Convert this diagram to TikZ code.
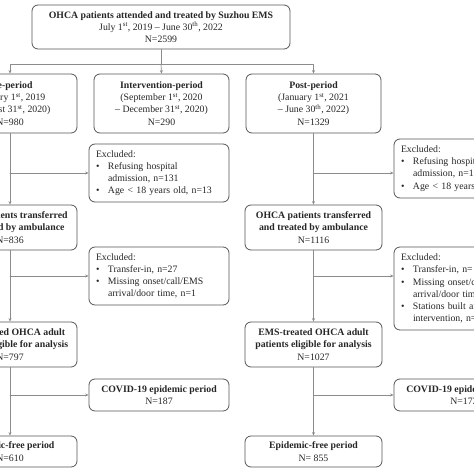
\documentclass[tikz,border=0pt]{standalone}
\usepackage{fontspec}
\setmainfont{Liberation Serif}
\usetikzlibrary{arrows.meta}
\definecolor{boxline}{HTML}{555555}
\definecolor{conline}{HTML}{8C8C8C}
\newcommand{\bl}{\makebox[12pt][l]{\textbullet}}
\newcommand{\hng}{\hspace*{12pt}}
\begin{document}
\begin{tikzpicture}[x=1pt, y=-1pt, line cap=round, line join=round,
    box/.style={draw=boxline, line width=0.8pt, rounded corners=6pt, align=center,
      inner sep=0pt, font=\fontsize{9.8}{12.2}\selectfont, text=black!85},
    exbox/.style={box, align=left, inner xsep=7pt, text width=126pt, minimum height=#1},
    con/.style={draw=conline, line width=0.7pt},
    arr/.style={con, -{Stealth[length=3.5pt, width=3pt]}}]

    \useasboundingbox (0,0) rectangle (474,474);
    \clip (0,0) rectangle (474,474);

    % source
    \node[box, minimum width=258pt, minimum height=44pt] (top) at (161,27)
        {\textbf{OHCA patients attended and treated by Suzhou EMS}\\
         July 1\textsuperscript{st}, 2019 -- June 30\textsuperscript{th}, 2022\\ N=2599};

    % periods
    \node[box, minimum width=134pt, minimum height=59pt] (pre) at (10,103.5)
        {\textbf{Pre-period}\\ (January 1\textsuperscript{st}, 2019\\
         -- August 31\textsuperscript{st}, 2020)\\ N=980};
    \node[box, minimum width=135pt, minimum height=59pt] (interv) at (161.5,103.5)
        {\textbf{Intervention-period}\\ (September 1\textsuperscript{st}, 2020\\
         -- December 31\textsuperscript{st}, 2020)\\ N=290};
    \node[box, minimum width=135pt, minimum height=59pt] (post) at (313.5,103.5)
        {\textbf{Post-period}\\ (January 1\textsuperscript{st}, 2021\\
         -- June 30\textsuperscript{th}, 2022)\\ N=1329};

    % exclusions
    \node[exbox=58pt] (exA) at (159,173)
        {Excluded:\\ \bl Refusing hospital\\ \hng admission, n=131\\ \bl Age < 18 years old, n=13};
    \node[exbox=59pt] (exB) at (464,168.5)
        {Excluded:\\ \bl Refusing hospital\\ \hng admission, n=1\\ \bl Age < 18 years old};
    \node[exbox=58pt] (exC) at (159,276)
        {Excluded:\\ \bl Transfer-in, n=27\\ \bl Missing onset/call/EMS\\ \hng arrival/door time, n=1};
    \node[exbox=83pt] (exD) at (464,288.5)
        {Excluded:\\ \bl Transfer-in, n=\\ \bl Missing onset/call/EMS\\ \hng arrival/door time\\
         \bl Stations built after\\ \hng intervention, n=};

    % transferred
    \node[box, minimum width=134pt, minimum height=45pt] (ptL) at (10,227.5)
        {\textbf{OHCA patients transferred}\\ \textbf{and treated by ambulance}\\ N=836};
    \node[box, minimum width=137pt, minimum height=45pt] (ptR) at (313.5,227.5)
        {\textbf{OHCA patients transferred}\\ \textbf{and treated by ambulance}\\ N=1116};

    % eligible
    \node[box, minimum width=134pt, minimum height=45pt] (elL) at (10,344.5)
        {\textbf{EMS-treated OHCA adult}\\ \textbf{patients eligible for analysis}\\ N=797};
    \node[box, minimum width=137pt, minimum height=45pt] (elR) at (313.5,344.5)
        {\textbf{EMS-treated OHCA adult}\\ \textbf{patients eligible for analysis}\\ N=1027};

    % epidemic split
    \node[box, minimum width=140pt, minimum height=32pt] (cvL) at (159,395)
        {\textbf{COVID-19 epidemic period}\\ N=187};
    \node[box, minimum width=140pt, minimum height=32pt] (cvR) at (464,395)
        {\textbf{COVID-19 epidemic period}\\ N=172};
    \node[box, minimum width=134pt, minimum height=31pt] (efL) at (10,451.5)
        {\textbf{Epidemic-free period}\\ N=610};
    \node[box, minimum width=137pt, minimum height=31pt] (efR) at (313.5,451.5)
        {\textbf{Epidemic-free period}\\ N= 855};

    % connectors
    \coordinate (split) at (161,64);
    \draw[con] (top.south) -- (split);
    \draw[arr] (split) -| (pre.north);
    \draw[arr] (split) -- (interv.north);
    \draw[arr] (split) -| (post.north);

    \draw[arr] (pre.south) -- (ptL.north);
    \draw[arr] (pre.south |- exA.west) -- (exA.west);
    \draw[arr] (ptL.south) -- (elL.north);
    \draw[arr] (ptL.south |- exC.west) -- (exC.west);
    \draw[arr] (elL.south) -- (efL.north);
    \draw[arr] (elL.south |- cvL.west) -- (cvL.west);

    \draw[arr] (post.south) -- (ptR.north);
    \draw[arr] (post.south |- exA.west) -- (exB.west |- exA.west);
    \draw[arr] (ptR.south) -- (elR.north);
    \draw[arr] (ptR.south |- exC.west) -- (exD.west |- exC.west);
    \draw[arr] (elR.south) -- (efR.north);
    \draw[arr] (elR.south |- cvR.west) -- (cvR.west);

\end{tikzpicture}
\end{document}
